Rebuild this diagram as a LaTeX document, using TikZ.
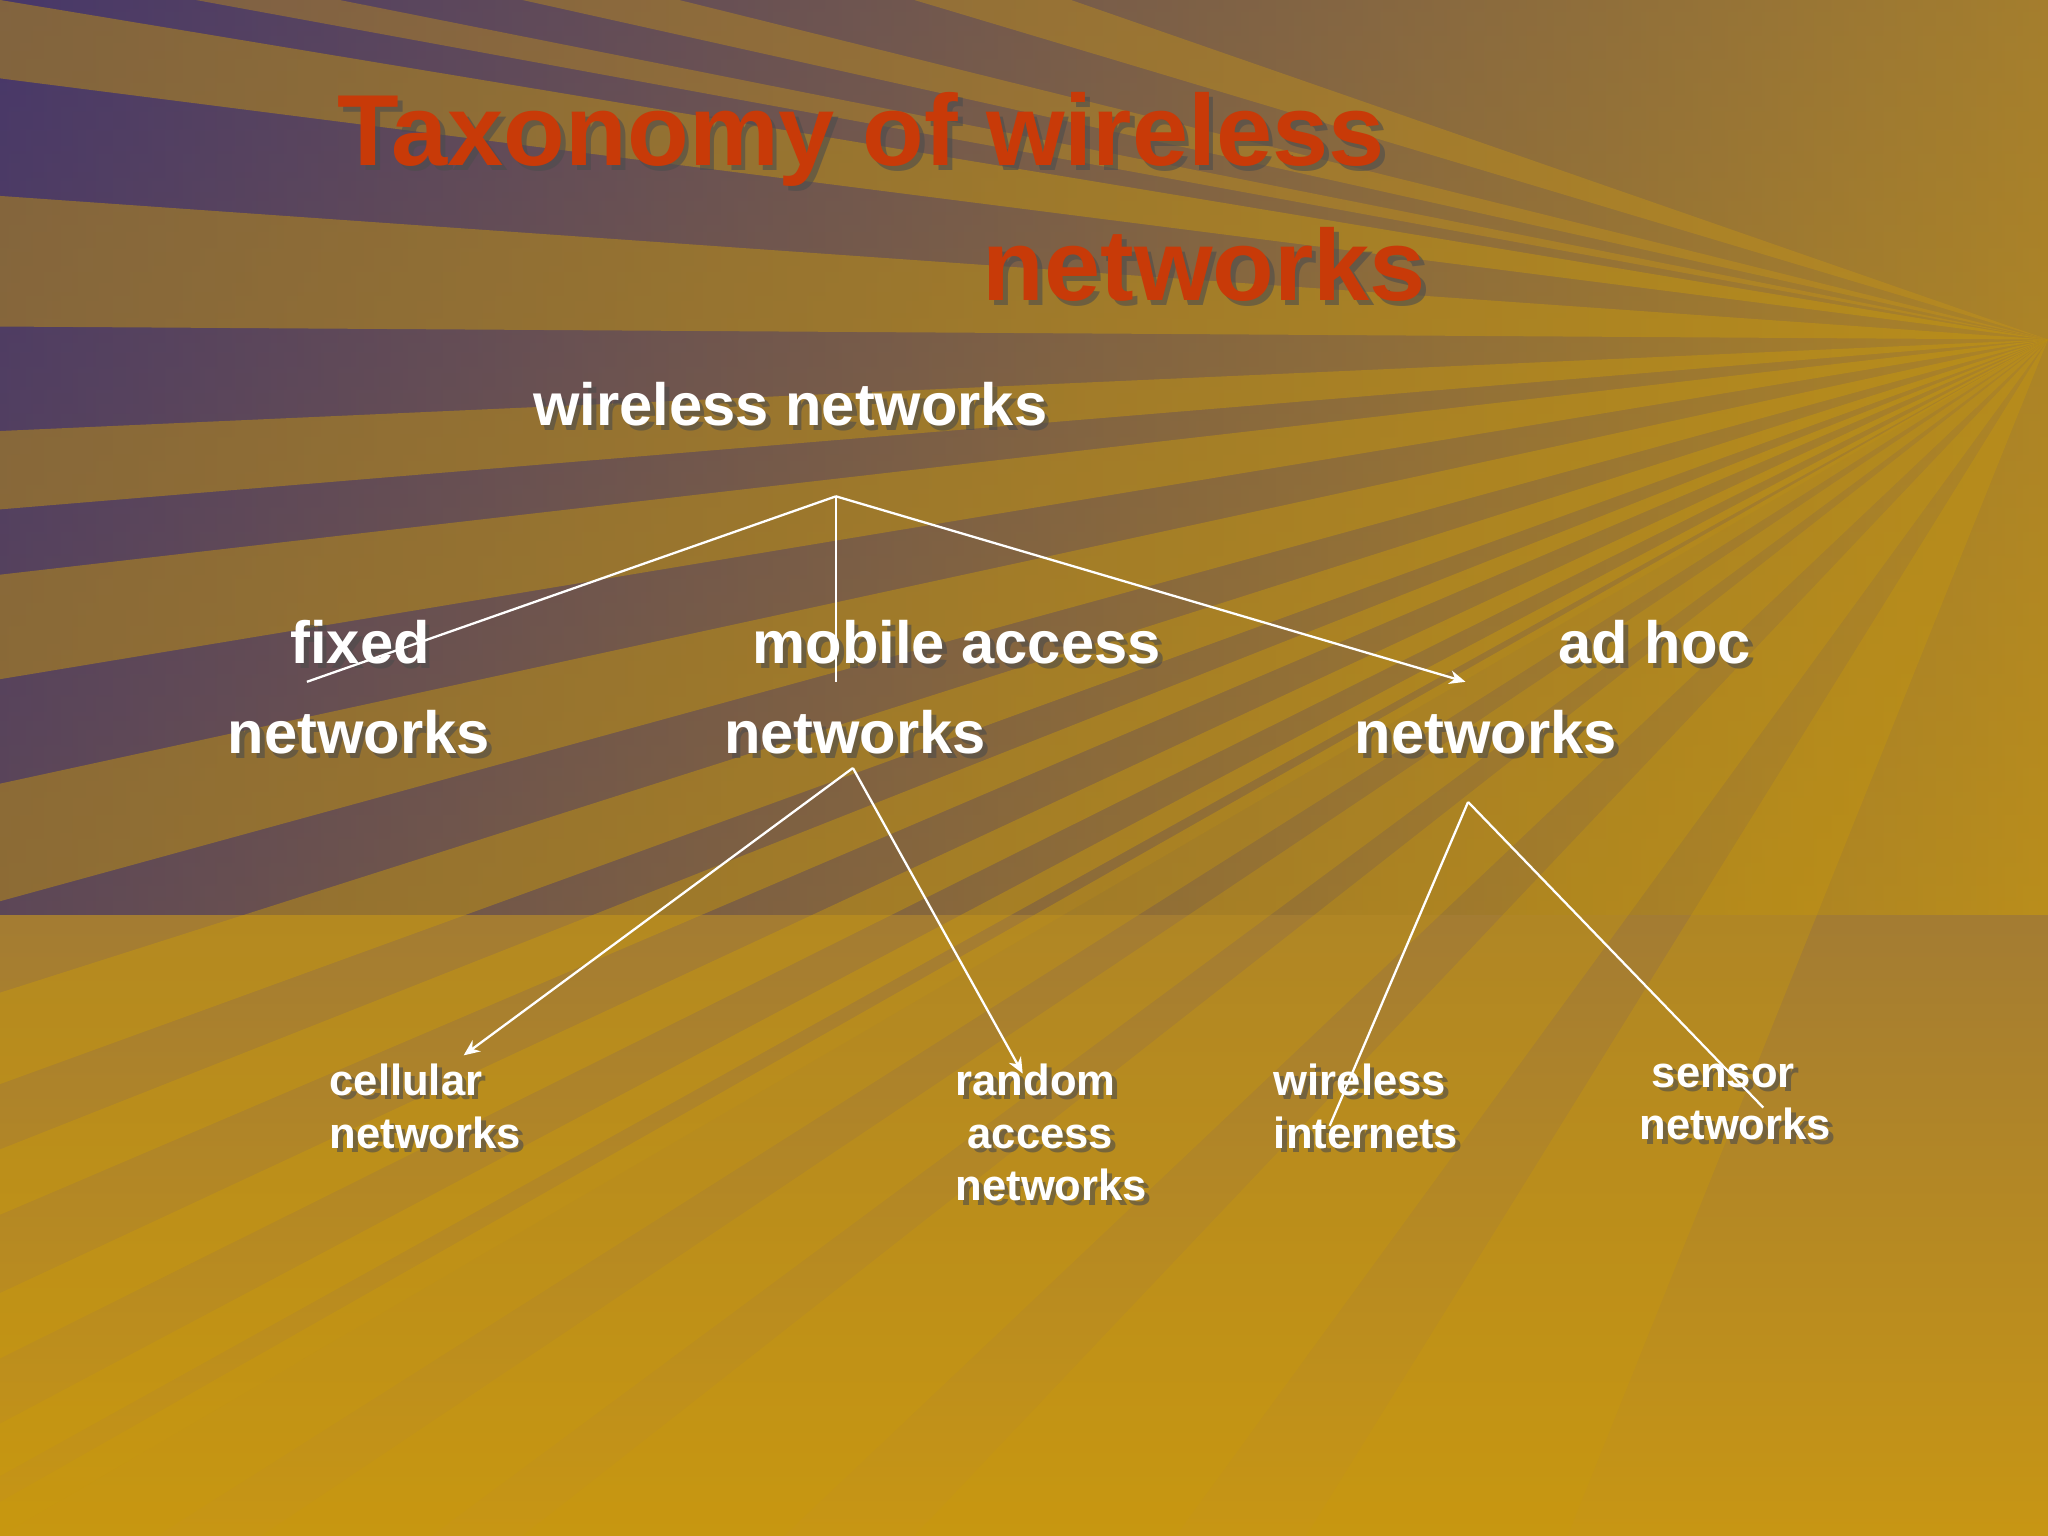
\documentclass[tikz,border=0pt]{standalone}
\usepackage{fontspec}
\setmainfont{Liberation Sans}
\usetikzlibrary{arrows.meta}
\definecolor{gold}{HTML}{C99A0C}
\definecolor{dpurple}{HTML}{2E2470}
\definecolor{mauve}{HTML}{6E5560}
\definecolor{titlered}{HTML}{C83A08}
\tikzset{
 lbl/.style={text=white,font=\bfseries\fontsize{26}{30}\selectfont,anchor=base west,inner sep=0},
 sm/.style={text=white,font=\bfseries\fontsize{19}{23}\selectfont,anchor=north west,inner sep=0,align=left},
 ttl/.style={text=titlered,font=\bfseries\fontsize{44}{50}\selectfont,anchor=base west,inner sep=0},
 con/.style={white,line width=1pt},
 arr/.style={con,-{Stealth[length=7pt,width=6pt]}}
}
\newcommand{\shtext}[4]{%
 \node[#1,text=black!70,opacity=0.6,xshift=2pt,yshift=-2pt] at #2 {#4};
 \node[#1] (#3) at #2 {#4};}
\begin{document}
\begin{tikzpicture}[x=0.02cm,y=-0.02cm]
\useasboundingbox (0,0) rectangle (1568,1176);
\shade[top color=mauve,bottom color=gold!85!brown] (0,0) rectangle (1568,1176);
\shade[left color=dpurple,right color=gold,opacity=0.6] (0,0) rectangle (1568,700);
\foreach \a/\b in {0/60,150/250,330/390,440/520,600/690,760/830,880/930,990/1040,1090/1130,1150/1176}
 \fill[gold,opacity=0.45] (1568,260) -- (0,\a) -- (0,\b) -- cycle;
\foreach \a/\b in {0/120,200/330,400/600,700/900,1000/1200}
 \fill[gold,opacity=0.35] (1568,260) -- (\a,1176) -- (\b,1176) -- cycle;
\foreach \a/\b in {150/260,400/520,700/820}
 \fill[gold!80!brown,opacity=0.4] (1568,260) -- (\a,0) -- (\b,0) -- cycle;
\shtext{ttl}{(258,127)}{t1}{Taxonomy of wireless}
\shtext{ttl}{(752,230)}{t2}{networks}
\shtext{lbl}{(408,326)}{wn}{wireless networks}
\shtext{lbl}{(222,508)}{f1}{fixed}
\shtext{lbl}{(174,577)}{f2}{networks}
\shtext{lbl}{(576,508)}{m1}{mobile access}
\shtext{lbl}{(554,577)}{m2}{networks}
\shtext{lbl}{(1193,508)}{a1}{ad hoc}
\shtext{lbl}{(1037,577)}{a2}{networks}
\shtext{sm}{(252,814)}{cel}{cellular\\networks}
\shtext{sm}{(722,814)}{ran}{\ random\\\ \ access\\\ networks}
\shtext{sm}{(975,814)}{wi}{wireless\\internets}
\shtext{sm}{(1255,814)}{sen}{\ sensor\\networks}
\coordinate (r) at (640,380);
\coordinate (fx) at (235,522);
\coordinate (mx) at (640,522);
\coordinate (ax) at (1122,522);
\coordinate (mb) at (653,588);
\coordinate (cx) at (355,808);
\coordinate (rx) at (783,822);
\coordinate (ab) at (1124,614);
\coordinate (wx) at (1018,862);
\coordinate (sx) at (1350,848);
\draw[con] (r) -- (fx);
\draw[con] (r) -- (mx);
\draw[arr] (r) -- (ax);
\draw[arr] (mb) -- (cx);
\draw[arr] (mb) -- (rx);
\draw[con] (ab) -- (wx);
\draw[con] (ab) -- (sx);
\end{tikzpicture}
\end{document}
